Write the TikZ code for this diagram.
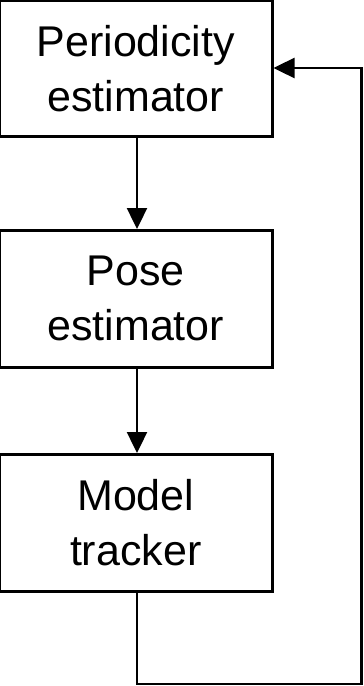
\documentclass[tikz,border=0pt]{standalone}
\usepackage{fontspec}
\setmainfont{Liberation Sans}
\usetikzlibrary{arrows.meta}
\begin{document}
\begin{tikzpicture}[x=1pt,y=1pt,
  blk/.style={draw,line width=2.5pt,minimum width=273pt,inner sep=0pt,anchor=north west,
    align=center,font=\fontsize{43}{55}\selectfont},
  conn/.style={line width=2.4pt,-{Triangle[length=21pt,width=20pt]}}]
\useasboundingbox (0,0) rectangle (364,-686);
\node[blk,minimum height=135.5pt] (p) at (-2,0.5) {Periodicity\\estimator};
\node[blk,minimum height=137pt] (s) at (-2,-229) {Pose\\estimator};
\node[blk,minimum height=137pt] (m) at (-2,-453) {Model\\tracker};
\coordinate (c2) at (361.5,-684);
\coordinate (c3) at (361.5,-68);
\draw[conn] ([xshift=1.25pt]p.south) -- ([xshift=1.25pt]s.north);
\draw[conn] ([xshift=1.25pt]s.south) -- ([xshift=1.25pt]m.north);
\draw[conn] ([xshift=1.25pt]m.south) |- (c2) -- (c3) -- (p.east |- c3);
\end{tikzpicture}
\end{document}
